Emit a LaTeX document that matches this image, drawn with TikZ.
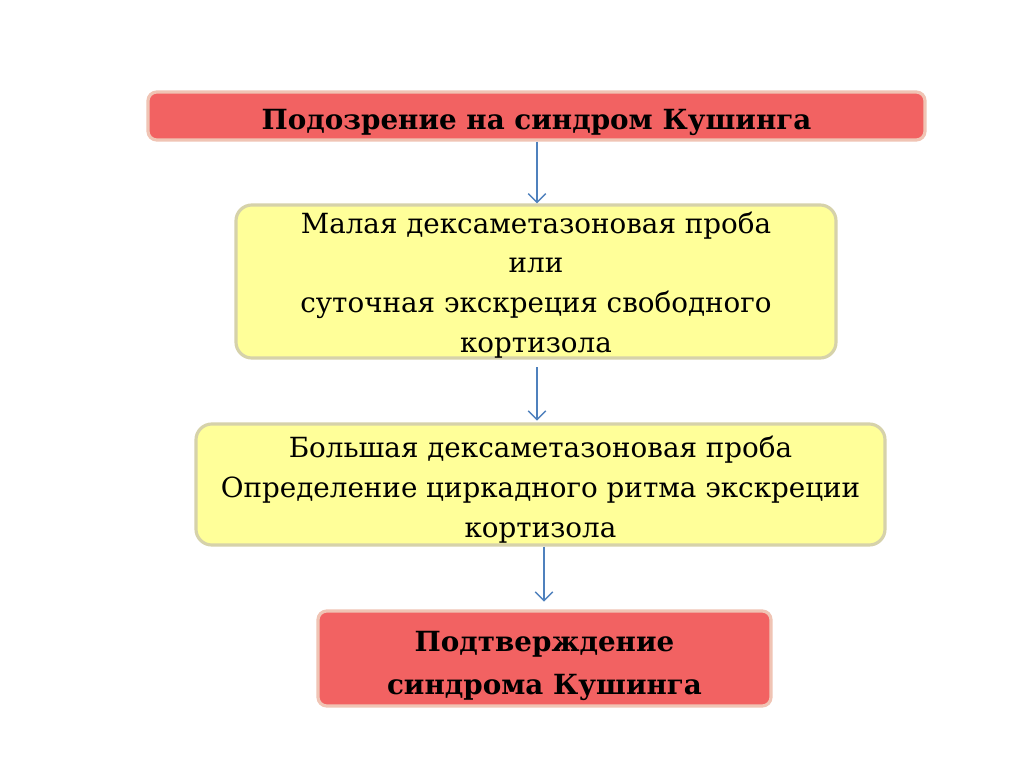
\documentclass[tikz,border=0pt]{standalone}
\usepackage{fontspec}
\setmainfont{DejaVu Serif}
\usetikzlibrary{calc,arrows.meta}
\definecolor{boxred}{RGB}{242,98,98}
\definecolor{edgered}{RGB}{240,196,180}
\definecolor{boxyellow}{RGB}{255,255,153}
\definecolor{edgeyellow}{RGB}{214,210,170}
\definecolor{arrowblue}{RGB}{79,129,189}
\newcommand{\boxtext}[2][1.4pt]{\raisebox{-#1}[\height][\depth]{\begin{tabular}{@{}c@{}}#2\end{tabular}}}
\tikzstyle{redbox} = [draw=edgered,line width=0.9pt,fill=boxred,rounded corners=2.5pt,inner sep=0pt,font=\fontsize{7.9}{12}\selectfont\bfseries]
\tikzstyle{yellowbox} = [draw=edgeyellow,line width=0.9pt,fill=boxyellow,rounded corners=4.5pt,inner sep=0pt,inner ysep=-2pt,font=\fontsize{7.9}{11.3}\selectfont]
\tikzstyle{step arrow} = [draw=arrowblue,line width=0.4pt,-{Straight Barb[length=2.5pt,width=5pt]}]

\begin{document}
\begin{tikzpicture}
			\useasboundingbox[fill=white] (0,0) rectangle (10.24,7.67);
			
			%% nodes
			\node[redbox,minimum width=7.77cm,minimum height=0.48cm] (suspect) at (5.365,6.51) {\boxtext{Подозрение на синдром Кушинга}};
			\node[yellowbox,minimum width=6.00cm,minimum height=1.53cm] (small) at (5.36,4.855) {\boxtext[0.9pt]{Малая дексаметазоновая проба\\или\\суточная экскреция свободного\\кортизола}};
			\node[yellowbox,minimum width=6.89cm,minimum height=1.21cm] (large) at (5.405,2.825) {\boxtext{Большая дексаметазоновая проба\\Определение циркадного ритма экскреции\\кортизола}};
			\node[redbox,minimum width=4.53cm,minimum height=0.95cm] (confirm) at (5.445,1.085) {\boxtext[1.7pt]{Подтверждение\\синдрома Кушинга}};
			
			%% edges
			\coordinate (a1) at ($(suspect.south)+(0.005,0)$);
			\coordinate (a2) at ($(large.south)+(0.035,0)$);
			\draw[step arrow] (a1) -- (a1 |- small.north);
			\draw[step arrow,shorten <=2.2pt,shorten >=0.5pt] (a1 |- small.south) -- (a1 |- large.north);
			\draw[step arrow,shorten >=2.2pt] (a2) -- (a2 |- confirm.north);
		\end{tikzpicture}
\end{document}
